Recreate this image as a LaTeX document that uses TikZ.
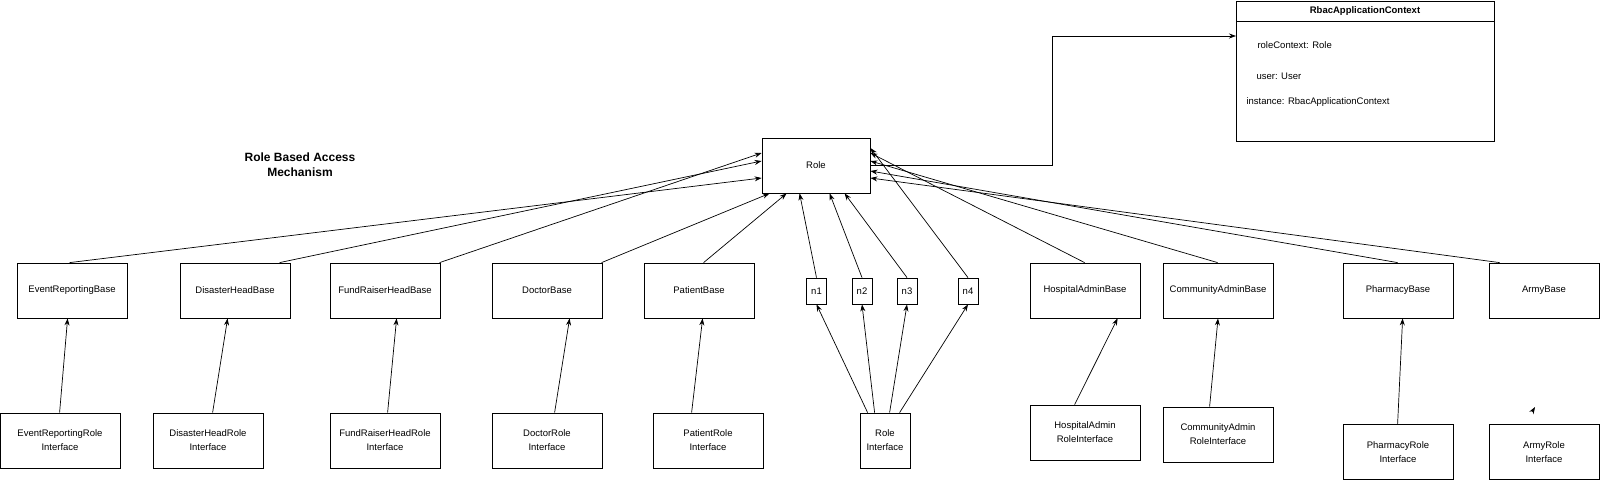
\documentclass[tikz,border=0pt]{standalone}
\usepackage{fontspec}
\setmainfont{Liberation Sans}
\usetikzlibrary{arrows.meta}
\begin{document}
\begin{tikzpicture}[x=1pt,y=-1pt,
  box/.style={draw,line width=0.8pt,minimum width=110pt,minimum height=55pt,inner sep=1pt,align=center,font=\fontsize{9.5}{14}\selectfont},
  sbox/.style={box,minimum width=20pt,minimum height=26pt},
  ar/.style={-{Stealth[length=7pt,width=5pt]},line width=0.7pt}]
\useasboundingbox (0,0) rectangle (1600,480);
\node[box,minimum width=108pt] (role) at (816,165.5) {Role};
\node[font=\bfseries\fontsize{12}{15}\selectfont,align=center] (title) at (300,165) {Role Based Access\\Mechanism};
% Rbac
\draw[line width=0.8pt] (1236,1) rectangle (1494,141);
\draw[line width=0.8pt] (1236,21) -- (1494,21);
\node[font=\fontsize{9.5}{10}\selectfont\bfseries] (rbac) at (1365,11) {RbacApplicationContext};
\coordinate (rbacin) at (1236,36);
\node[font=\fontsize{9.5}{10}\selectfont,anchor=west] (a1) at (1254,45) {roleContext: Role};
\node[font=\fontsize{9.5}{10}\selectfont,anchor=west] (a2) at (1253,76) {user: User};
\node[font=\fontsize{9.5}{10}\selectfont,anchor=west] (a3) at (1243,102) {instance: RbacApplicationContext};
% bases
\node[box] (erb) at (72,290.5) {EventReportingBase};
\node[box] (dhb) at (235,290.5) {DisasterHeadBase};
\node[box] (frb) at (385,290.5) {FundRaiserHeadBase};
\node[box] (db) at (547,290.5) {DoctorBase};
\node[box] (pb) at (699,290.5) {PatientBase};
\node[sbox] (n1) at (816.5,291) {n1};
\node[sbox] (n2) at (862,291) {n2};
\node[sbox] (n3) at (907,291) {n3};
\node[sbox] (n4) at (968,291) {n4};
\node[box] (hab) at (1085,290.5) {HospitalAdminBase};
\node[box] (cab) at (1218,290.5) {CommunityAdminBase};
\node[box] (phb) at (1398,290.5) {PharmacyBase};
\node[box] (ab) at (1544,290.5) {ArmyBase};
% interfaces
\node[box,minimum width=120pt] (eri) at (60,440.5) {EventReportingRole\\Interface};
\node[box] (dhi) at (208,440.5) {DisasterHeadRole\\Interface};
\node[box] (fri) at (385,440.5) {FundRaiserHeadRole\\Interface};
\node[box] (di) at (547,440.5) {DoctorRole\\Interface};
\node[box] (pi) at (708,440.5) {PatientRole\\Interface};
\node[box,minimum width=50pt] (ri) at (885,440.5) {Role\\Interface};
\node[box] (hai) at (1085,432.5) {HospitalAdmin\\RoleInterface};
\node[box] (cai) at (1218,434.5) {CommunityAdmin\\RoleInterface};
\node[box] (phi) at (1398,452) {PharmacyRole\\Interface};
\node[box] (ai) at (1544,452) {ArmyRole\\Interface};
% base -> role
\draw[ar] ([xshift=53pt]erb.north west) -- ([yshift=-12.5pt]role.west);
\draw[ar] ([xshift=100pt]dhb.north west) -- ([yshift=4.5pt]role.west);
\draw[ar] ([xshift=110pt]frb.north west) -- ([yshift=12.5pt]role.west);
\draw[ar] ([xshift=110pt]db.north west) -- ([xshift=8pt]role.south west);
\draw[ar] ([xshift=60pt]pb.north west) -- ([xshift=25pt]role.south west);
\draw[ar] (n1.north) -- ([xshift=38pt]role.south west);
\draw[ar] (n2.north) -- ([xshift=68pt]role.south west);
\draw[ar] (n3.north) -- ([xshift=83pt]role.south west);
\draw[ar] (n4.north) -- ([yshift=17.5pt]role.east);
\draw[ar] ([xshift=55pt]hab.north west) -- ([yshift=12.5pt]role.east);
\draw[ar] ([xshift=55pt]cab.north west) -- ([yshift=4.5pt]role.east);
\draw[ar] ([xshift=55pt]phb.north west) -- ([yshift=-5.5pt]role.east);
\draw[ar] ([xshift=11pt]ab.north west) -- ([yshift=-12.5pt]role.east);
% role -> rbac
\draw[ar] (role.east) -- (1052,165.5) -- (1052,36) -- (rbacin);
% interface -> base
\draw[ar] ([xshift=60pt]eri.north west) -- ([xshift=51pt]erb.south west);
\draw[ar] ([xshift=60pt]dhi.north west) -- ([xshift=48pt]dhb.south west);
\draw[ar] ([xshift=58pt]fri.north west) -- ([xshift=67pt]frb.south west);
\draw[ar] ([xshift=63pt]di.north west) -- ([xshift=78pt]db.south west);
\draw[ar] ([xshift=39pt]pi.north west) -- ([xshift=59pt]pb.south west);
\draw[ar] ([xshift=8pt]ri.north west) -- (n1.south);
\draw[ar] ([xshift=15pt]ri.north west) -- (n2.south);
\draw[ar] ([xshift=30pt]ri.north west) -- (n3.south);
\draw[ar] ([xshift=40pt]ri.north west) -- (n4.south);
\draw[ar] ([xshift=45pt]hai.north west) -- ([xshift=88pt]hab.south west);
\draw[ar] ([xshift=47pt]cai.north west) -- (cab.south);
\draw[ar] ([xshift=55pt]phi.north west) -- ([xshift=60pt]phb.south west);
\coordinate (stray) at (1532,412);
\draw[ar] (stray) -- ++(3,-5);
\end{tikzpicture}
\end{document}
